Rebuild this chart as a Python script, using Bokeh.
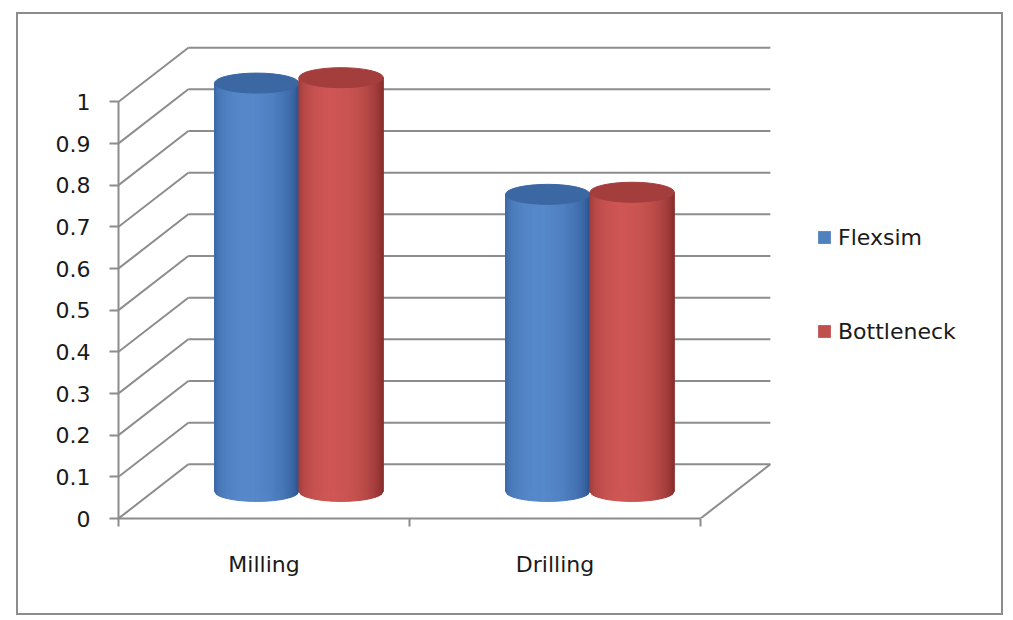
import numpy as np
from bokeh.plotting import figure
from bokeh.models import (Range1d, LinearAxis, FixedTicker, Legend, LegendItem,
                          ColumnDataSource)
from bokeh.embed import file_html
from bokeh.resources import INLINE

# ---------------- data ----------------
categories = ["Milling", "Drilling"]
series_names = ["Flexsim", "Bottleneck"]
flexsim = [0.98, 0.713]
bottleneck = [0.993, 0.718]
y_ticks = [0, 0.1, 0.2, 0.3, 0.4, 0.5, 0.6, 0.7, 0.8, 0.9, 1]
y_tick_labels = ["0", "0.1", "0.2", "0.3", "0.4", "0.5", "0.6", "0.7", "0.8", "0.9", "1"]

series_values = [flexsim, bottleneck]

# ---------------- style ----------------
DX, DY = 0.24, 0.13      # oblique depth offset (data units)
BW = 0.29                # cylinder width
EH = 0.048               # ellipse height
GRID = "#8c8c8c"
FONT = "DejaVu Sans"
base_colors = ["#4f81bd", "#c0504d"]
dark = [(38, 77, 136), (124, 40, 38)]
light = [(86, 136, 202), (206, 86, 84)]
caps = ["#3b67a3", "#a33e3c"]

n = len(categories)

p = figure(width=983, height=599, x_range=Range1d(0, 3.0), y_range=Range1d(0, 1.2),
           output_backend="svg", toolbar_location=None,
           x_axis_type=None, y_axis_type=None,
           min_border_left=100, min_border_right=10, min_border_top=4, min_border_bottom=95)
p.outline_line_color = None
p.background_fill_color = "white"
p.border_fill_color = "white"
p.styles = {"margin-left": "18px", "margin-top": "14px",
            "outline": "2px solid #8c8c8c", "outline-offset": "0px"}

# y axis (front edge of side wall)
yaxis = LinearAxis(ticker=FixedTicker(ticks=y_ticks, minor_ticks=[]), bounds=(0, 1),
                   major_label_overrides=dict(zip(y_ticks, y_tick_labels)))
yaxis.axis_line_color = GRID
yaxis.axis_line_width = 2
yaxis.major_tick_line_color = GRID
yaxis.major_tick_line_width = 2
yaxis.major_tick_out = 9
yaxis.major_tick_in = 0
yaxis.minor_tick_line_color = None
yaxis.major_label_standoff = 19
yaxis.major_label_text_font = FONT
yaxis.major_label_text_font_size = "22px"
yaxis.major_label_text_color = "#1a1a1a"
p.add_layout(yaxis, "left")

# x axis (front edge of floor)
cat_pos = [i + 0.5 for i in range(n)]
xaxis = LinearAxis(ticker=FixedTicker(ticks=cat_pos, minor_ticks=list(range(n + 1))),
                   bounds=(0, n),
                   major_label_overrides=dict(zip(cat_pos, categories)))
xaxis.axis_line_color = GRID
xaxis.axis_line_width = 2
xaxis.major_tick_line_color = None
xaxis.major_tick_out = 0
xaxis.major_tick_in = 0
xaxis.minor_tick_line_color = GRID
xaxis.minor_tick_line_width = 2
xaxis.minor_tick_out = 8
xaxis.minor_tick_in = 0
xaxis.major_label_standoff = 25
xaxis.major_label_text_font = FONT
xaxis.major_label_text_font_size = "22px"
xaxis.major_label_text_color = "#1a1a1a"
p.add_layout(xaxis, "below")

# back wall gridlines
p.multi_line(xs=[[DX, n + DX] for v in y_ticks], ys=[[v + DY, v + DY] for v in y_ticks],
             line_color=GRID, line_width=2)
# side wall diagonals
p.multi_line(xs=[[0, DX] for v in y_ticks], ys=[[v, v + DY] for v in y_ticks],
             line_color=GRID, line_width=2)
# floor right edge
p.line(x=[n, n + DX], y=[0, DY], line_color=GRID, line_width=2)

# cylinders
N = 40
u_edges = np.linspace(-1, 1, N + 1)
phi = -0.2
S = len(series_values)


def shade(s, u):
    g = max(0.0, np.cos(np.arcsin(np.clip(u, -1, 1)) - phi))
    g = 0.15 + 0.85 * g
    c = [int(round(dark[s][k] + (light[s][k] - dark[s][k]) * g)) for k in range(3)]
    return "#%02x%02x%02x" % tuple(c)


def centers(s):
    return [i + 0.5 + DX / 2 + (s - (S - 1) / 2) * BW for i in range(n)]


# base bars (one renderer per series, also used for the legend)
base_renderers = []
for s in range(S):
    r = p.vbar(x=centers(s), width=BW, bottom=DY / 2,
               top=[v + DY / 2 for v in series_values[s]],
               fill_color=base_colors[s], line_color=None)
    base_renderers.append(r)

for i in range(n):
    for s in range(S):
        v = series_values[s][i]
        cx = centers(s)[i]
        yb = DY / 2
        yt = v + DY / 2
        xs, ys, cols = [], [], []
        for j in range(N):
            ul, ur = u_edges[j], u_edges[j + 1]
            xl, xr = cx + ul * BW / 2, cx + ur * BW / 2
            bl = yb - EH / 2 * np.sqrt(max(0.0, 1 - ul * ul))
            br = yb - EH / 2 * np.sqrt(max(0.0, 1 - ur * ur))
            xs.append([xl, xr, xr, xl])
            ys.append([bl, br, yt, yt])
            cols.append(shade(s, (ul + ur) / 2))
        src = ColumnDataSource(dict(xs=xs, ys=ys, c=cols))
        p.patches("xs", "ys", source=src, fill_color="c", line_color="c", line_width=1)
        p.ellipse(x=[cx], y=[yt], width=BW, height=EH, fill_color=caps[s],
                  line_color=caps[s], line_width=1)

# legend
leg_items = [LegendItem(label=series_names[s], renderers=[base_renderers[s]]) for s in range(S)]
legend = Legend(items=leg_items, location=(698, 174), orientation="vertical",
                glyph_width=16, glyph_height=16, label_standoff=6, spacing=68,
                label_height=26, padding=0, margin=0,
                label_text_font=FONT, label_text_font_size="22px", label_text_color="#1a1a1a",
                border_line_color=None, background_fill_alpha=0)
p.add_layout(legend)

open("out.html", "w").write(file_html(p, INLINE))
